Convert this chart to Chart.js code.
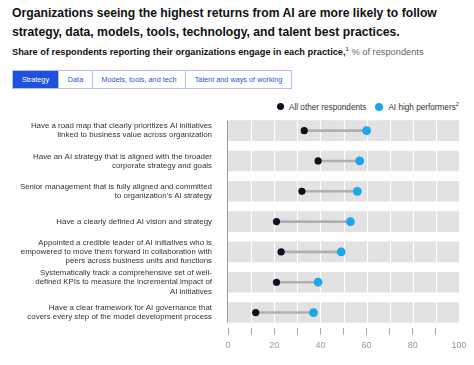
<!doctype html>
<html lang="en">
<head>
<meta charset="utf-8">
<title>AI high performers best practices</title>
<script src="https://cdn.jsdelivr.net/npm/chart.js@4.4.1/dist/chart.umd.min.js"></script>
<style>
  body { margin:0; width:474px; height:365px; background:#fff; overflow:hidden;
         font-family:"Liberation Sans", Arial, sans-serif; }
  h1 { position:absolute; left:12px; top:4px; margin:0; width:462px;
       font-size:12.2px; line-height:19px; font-weight:bold; color:#111; }
  .sub { position:absolute; left:12px; top:46px; font-size:9.25px; color:#111; white-space:nowrap; }
  .sub b { font-weight:bold; }
  .sub span { color:#666; }
  .tabs { position:absolute; left:12px; top:70px; display:flex; border:1px solid #b3c0ea; }
  .tabs div { height:17px; line-height:17px; font-size:7.3px; color:#2c55d6; text-align:center;
              border-left:1px solid #b3c0ea; }
  .tabs div:first-child { border-left:none; background:#1f52dc; color:#fff; }
  .legend { position:absolute; top:101px; left:277px; font-size:8.2px; color:#333; white-space:nowrap; }
  .legend i { display:inline-block; border-radius:50%; vertical-align:middle; margin-right:5px; position:relative; top:-1px; }
  .wrap { position:absolute; left:0; top:97px; width:474px; height:268px; }
</style>
</head>
<body>
<h1>Organizations seeing the highest returns from AI are more likely to follow strategy, data, models, tools, technology, and talent best practices.</h1>
<div class="sub"><b>Share of respondents reporting their organizations engage in each practice,</b><sup style="font-size:6px">1</sup> <span>% of respondents</span></div>
<div class="tabs">
  <div style="width:45px">Strategy</div>
  <div style="width:33px">Data</div>
  <div style="width:92px">Models, tools, and tech</div>
  <div style="width:105px">Talent and ways of working</div>
</div>
<div class="legend" id="legend"></div>
<div class="wrap"><canvas id="myChart"></canvas></div>

<script>
const categories = [
  ['Have a road map that clearly prioritizes AI initiatives', 'linked to business value across organization'],
  ['Have an AI strategy that is aligned with the broader', 'corporate strategy and goals'],
  ['Senior management that is fully aligned and committed', 'to organization\u2019s AI strategy'],
  'Have a clearly defined AI vision and strategy',
  ['Appointed a credible leader of AI initiatives who is', 'empowered to move them forward in collaboration with', 'peers across business units and functions'],
  ['Systematically track a comprehensive set of well-', 'defined KPIs to measure the incremental impact of', 'AI initiatives'],
  ['Have a clear framework for AI governance that', 'covers every step of the model development process']
];
const otherRespondents = [33, 39, 32, 21, 23, 21, 12];
const highPerformers = [60, 57, 56, 53, 49, 39, 37];
const labelledTicks = [0, 20, 40, 60, 80, 100];
const seriesNames = ['All other respondents', 'AI high performers'];
const seriesColors = ['#0d1020', '#1ba7ea'];

const FONT = '"Liberation Sans", Arial, sans-serif';

// legend in html, like the original page
document.getElementById('legend').innerHTML =
  '<i style="width:7px;height:7px;background:' + seriesColors[0] + '"></i>' + seriesNames[0] +
  '<i style="width:8px;height:8px;margin-left:9px;background:' + seriesColors[1] + '"></i>' + seriesNames[1] +
  '<sup style="font-size:5.5px">2</sup>';

// white grid lines on the grey bands + the left axis line
const bandLines = {
  id: 'bandLines',
  afterDatasetDraw(chart, args) {
    if (args.index !== 3) return;
    const x = chart.scales.x, ctx = chart.ctx;
    const bars = args.meta.data;
    const top = bars[0].y - bars[0].height / 2;
    const last = bars[bars.length - 1];
    const bottom = last.y + last.height / 2;
    ctx.save();
    ctx.strokeStyle = '#fff';
    ctx.lineWidth = 1.2;
    x.ticks.forEach(t => {
      if (t.value <= 0 || t.value >= 100) return;
      const px = Math.round(x.getPixelForValue(t.value)) + 0.5;
      ctx.beginPath(); ctx.moveTo(px, top); ctx.lineTo(px, bottom); ctx.stroke();
    });
    ctx.strokeStyle = '#9a9a9a';
    ctx.lineWidth = 1;
    const lx = Math.round(x.getPixelForValue(0)) - 0.5;
    ctx.beginPath(); ctx.moveTo(lx, top); ctx.lineTo(lx, bottom); ctx.stroke();
    ctx.restore();
  }
};

const ctx = document.getElementById('myChart').getContext('2d');
const myChart = new Chart(ctx, {
  type: 'bar',
  data: {
    labels: categories,
    datasets: [
      {
        type: 'line', label: seriesNames[0], data: otherRespondents,
        showLine: false, pointRadius: 3.6, pointHoverRadius: 3.6,
        pointBackgroundColor: seriesColors[0], pointBorderWidth: 0, order: 0
      },
      {
        type: 'line', label: seriesNames[1], data: highPerformers,
        showLine: false, pointRadius: 4.4, pointHoverRadius: 4.4,
        pointBackgroundColor: seriesColors[1], pointBorderWidth: 0, order: 1
      },
      {
        label: 'gap', data: otherRespondents.map((v, i) => [v, highPerformers[i]]),
        backgroundColor: '#b0b0b0', barThickness: 2, grouped: false, order: 2
      },
      {
        label: 'band', data: categories.map(() => [0, 100]),
        backgroundColor: '#e2e2e2', barThickness: 20, grouped: false, order: 3
      }
    ]
  },
  plugins: [bandLines],
  options: {
    indexAxis: 'y',
    responsive: true,
    maintainAspectRatio: false,
    animation: false,
    layout: { padding: { left: 0, right: 15, top: 18.5, bottom: 9.5 } },
    scales: {
      x: {
        min: 0, max: 100,
        border: { display: false },
        grid: {
          drawOnChartArea: false, drawTicks: true, tickLength: 7,
          tickColor: (c) => c.tick && c.tick.value === 100 ? 'rgba(0,0,0,0)' : '#a8a8a8'
        },
        ticks: {
          stepSize: 10, autoSkip: false, maxRotation: 0, padding: 5,
          color: '#9a9a9a', font: { family: FONT, size: 9 },
          callback: (v) => labelledTicks.includes(v) ? v : ''
        }
      },
      y: {
        border: { display: false },
        grid: { display: false },
        afterFit: (s) => { s.width = 228; },
        ticks: {
          autoSkip: false, color: '#333', padding: 8,
          font: { family: FONT, size: 7.9, lineHeight: 1.16 }
        }
      }
    },
    plugins: {
      tooltip: { enabled: false },
      legend: { display: false }
    }
  }
});
</script>
</body>
</html>
